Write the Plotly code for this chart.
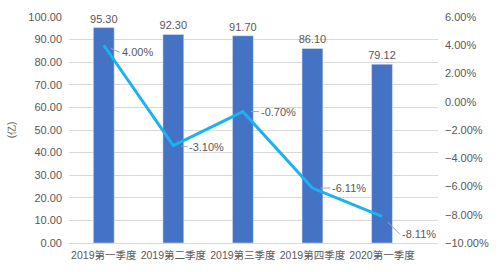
import plotly.graph_objects as go

categories = ["2019第一季度", "2019第二季度", "2019第三季度", "2019第四季度", "2020第一季度"]
revenue = [95.30, 92.30, 91.70, 86.10, 79.12]
growth = [4.00, -3.10, -0.70, -6.11, -8.11]
growth_labels = ["4.00%", "-3.10%", "-0.70%", "-6.11%", "-8.11%"]
label_offsets = [(16, 7), (14, 1), (16, 0), (18, 0), (18, 18)]

gray = "#595959"
font = "Liberation Sans, Arial, sans-serif"

fig = go.Figure()
fig.add_trace(go.Bar(
    x=categories, y=revenue, marker_color="#4472C4",
    text=[f"{v:.2f}" for v in revenue], textposition="outside",
    constraintext="none",
    textfont=dict(size=11, color=gray, family=font), cliponaxis=False,
    showlegend=False,
))
fig.add_trace(go.Scatter(
    x=categories, y=growth, yaxis="y2", mode="lines",
    line=dict(color="#1AB2F0", width=3), showlegend=False,
))
for c, g, t, (ax, ay) in zip(categories, growth, growth_labels, label_offsets):
    fig.add_annotation(
        x=c, y=g, yref="y2", text=t, showarrow=True, arrowhead=0,
        arrowwidth=1, arrowcolor="#A6A6A6", ax=ax, ay=ay, standoff=8,
        xanchor="left", font=dict(size=11, color=gray, family=font),
    )

fig.update_layout(
    width=500, height=272,
    margin=dict(l=63, r=51, t=11, b=22),
    plot_bgcolor="white", paper_bgcolor="white",
    bargap=0.7,
    font=dict(family=font, color=gray, size=11),
    xaxis=dict(showgrid=False, showline=True, linecolor="#D9D9D9",
               tickangle=0, tickfont=dict(size=10.5, color=gray,
                                          family="Liberation Sans, Noto Sans CJK SC, sans-serif"),
               ticks="", ticklabelstandoff=2),
    yaxis=dict(range=[0, 100], dtick=10, tickformat=".2f", showgrid=True,
               gridcolor="#D9D9D9", zeroline=False, ticklabelstandoff=6,
               tickfont=dict(size=11, color=gray),
               title=dict(text="(亿)", font=dict(size=10, color=gray), standoff=10)),
    yaxis2=dict(range=[-10, 6], dtick=2, tickformat=".2f", ticksuffix="%",
                overlaying="y", side="right", showgrid=False, zeroline=False,
                ticklabelstandoff=6, tickfont=dict(size=11, color=gray)),
)

fig.write_html("out.html")
